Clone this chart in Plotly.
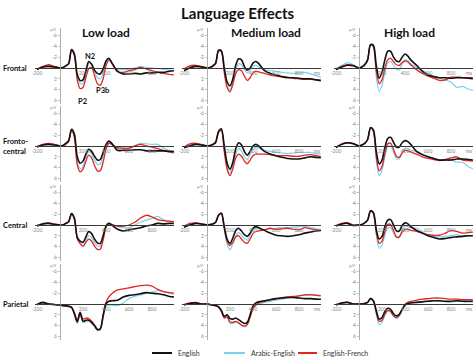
import plotly.graph_objects as go

W, H = 474, 358

# ---------------- data ----------------
time_ms = [-200, -150, -100, -50, 0, 25, 50, 75, 100, 125, 150, 175, 200, 225, 250, 275, 300, 325,
           350, 375, 400, 425, 450, 500, 550, 600, 650, 700, 750, 800, 850, 900, 950, 1000]

regions = ["Frontal", "Fronto-<br>central", "Central", "Parietal"]
loads = ["Low load", "Medium load", "High load"]
groups = ["English", "Arabic-English", "English-French"]
x_tick_vals = [-200, 200, 400, 600, 800]
x_tick_text = ["-200", "200", "400", "600", "800"]
y_tick_vals = [-6, -4, -2, 2, 4, 6]
y_tick_text = ["-6", "-4", "-2", "2", "4", "6"]

# Frontal
frontal_low_english = [0.3,-0.2,-0.3,-0.2,0.0,-0.1,-0.4,-0.8,-3.4,-2.6,1.2,2.3,2.2,0.5,-1.2,-0.7,0.4,1.0,1.1,0.2,-1.3,-1.8,-1.0,0.6,1.1,1.1,1.0,1.1,0.9,0.9,0.8,0.8,0.6,0.5]
frontal_low_arabic = [0.2,-0.2,-0.4,-0.2,0.0,-0.1,-0.4,-0.8,-3.3,-2.4,1.6,2.9,2.8,1.0,-0.8,-0.7,0.6,1.8,2.0,1.0,-1.0,-1.7,-0.9,0.3,0.3,0.2,0.0,-0.3,-0.1,0.0,0.1,0.2,0.4,0.5]
frontal_low_french = [0.2,-0.3,-0.6,-0.3,0.0,0.0,-0.4,-0.8,-3.2,-2.3,2.2,3.8,3.6,1.8,0.1,-0.1,1.4,2.9,3.2,2.0,-0.4,-1.5,-0.9,0.7,0.8,0.5,0.3,-0.1,0.2,0.5,0.8,1.0,1.2,1.3]

frontal_med_english = [0.5,0.0,-0.3,-0.2,0.0,-0.1,-0.4,-0.9,-3.3,-3.2,0.0,2.6,3.3,2.0,-0.5,-1.7,-1.5,-0.3,0.4,0.0,-0.9,-1.2,-0.8,0.5,1.0,1.3,1.6,1.8,1.8,1.9,2.0,2.0,2.2,2.4]
frontal_med_arabic = [0.2,-0.2,-0.3,-0.2,0.0,-0.1,-0.3,-0.8,-3.2,-3.1,0.5,3.2,4.0,2.6,0.3,-0.8,-0.6,0.3,0.9,0.4,-0.3,-0.5,-0.2,0.3,0.5,0.6,0.8,0.9,1.0,0.9,0.8,1.1,1.4,1.8]
frontal_med_french = [0.2,-0.4,-0.5,-0.3,0.0,0.0,-0.3,-0.8,-3.1,-3.0,0.8,3.6,4.4,3.0,1.0,0.3,0.5,1.5,2.3,1.8,0.9,0.6,0.7,1.0,1.3,1.5,1.6,1.7,1.9,2.0,2.1,2.1,2.2,2.2]

frontal_high_english = [0.3,-0.2,-0.5,-0.4,0.0,-0.2,-0.6,-1.5,-4.3,-4.2,-0.5,1.9,0.8,-1.5,-3.1,-3.1,-2.0,-1.3,-1.2,-2.0,-2.6,-2.2,-1.5,-0.5,0.6,1.3,1.6,1.8,1.8,1.9,1.8,1.8,1.9,2.0]
frontal_high_arabic = [0.2,-0.5,-1.0,-0.6,0.0,-0.3,-0.7,-1.6,-4.3,-3.8,1.5,4.3,3.2,0.8,-0.9,-1.2,-0.5,0.2,0.4,-0.7,-1.5,-1.4,-0.8,-0.2,0.5,1.0,1.5,1.9,2.2,2.6,3.6,3.4,3.9,4.2]
frontal_high_french = [0.2,-0.3,-0.6,-0.5,0.0,-0.2,-0.6,-1.5,-4.3,-4.0,0.5,2.9,2.2,0.0,-1.5,-1.8,-1.2,-0.6,-0.5,-1.0,-1.3,-1.1,-0.6,0.3,1.0,1.5,1.9,2.3,2.2,1.7,1.7,1.8,1.8,1.8]

# Fronto-central
frontocentral_low_english = [0.2,-0.2,-0.3,-0.2,0.0,-0.1,-0.5,-1.0,-3.1,-2.2,2.0,3.2,2.8,1.5,0.6,1.0,1.9,2.6,2.5,1.2,-0.3,-0.9,-0.5,0.8,0.8,0.8,0.7,0.7,0.9,0.9,0.9,0.9,1.0,1.0]
frontocentral_low_arabic = [0.1,-0.2,-0.5,-0.3,0.0,-0.1,-0.4,-0.9,-3.0,-1.9,2.9,4.2,3.8,2.0,1.0,1.4,2.6,3.4,3.3,1.8,0.0,-0.6,-0.4,0.5,0.5,0.5,-0.1,-0.5,-0.4,-0.3,-0.3,0.4,0.8,1.0]
frontocentral_low_french = [0.1,-0.3,-0.5,-0.3,0.0,0.0,-0.3,-0.8,-2.9,-1.6,3.5,4.8,4.3,2.8,1.7,2.2,3.6,4.6,4.6,3.0,0.6,-0.5,-0.3,0.3,0.4,0.4,0.0,-0.3,0.0,0.2,0.5,0.8,1.1,1.3]

frontocentral_med_english = [0.3,0.0,-0.3,-0.2,0.0,-0.1,-0.3,-0.7,-2.7,-3.2,0.0,3.2,4.3,3.0,0.5,-0.6,-0.2,1.0,1.7,1.0,0.0,-0.3,0.0,1.0,1.5,1.8,2.1,2.3,2.4,2.4,2.2,2.0,2.1,2.2]
frontocentral_med_arabic = [0.2,-0.2,-0.3,-0.2,0.0,-0.1,-0.2,-0.6,-2.6,-3.0,0.6,3.9,5.0,3.7,1.5,0.5,0.9,2.0,2.5,1.6,0.6,0.3,0.4,0.8,1.0,1.2,1.3,1.4,1.3,1.2,1.2,1.2,1.4,1.5]
frontocentral_med_french = [0.2,-0.4,-0.5,-0.3,0.0,0.0,-0.2,-0.6,-2.5,-2.9,1.0,4.3,5.5,4.2,2.2,1.5,1.9,2.8,3.3,2.6,1.8,1.5,1.5,1.5,1.6,1.8,1.8,1.8,1.9,1.9,1.7,1.6,1.8,2.0]

frontocentral_high_english = [0.3,-0.3,-0.6,-0.4,0.0,-0.2,-0.5,-1.2,-3.4,-3.0,1.0,3.3,2.6,0.3,-1.4,-1.6,-0.7,0.2,0.2,-0.6,-1.0,-0.8,-0.3,1.0,1.6,2.0,2.3,2.6,2.6,2.6,2.4,2.4,2.5,2.6]
frontocentral_high_arabic = [0.2,-0.4,-0.6,-0.4,0.0,-0.2,-0.5,-1.2,-3.4,-2.6,2.6,5.5,4.5,1.9,0.1,0.0,1.1,2.3,2.4,1.2,0.4,0.5,0.8,1.0,1.5,1.9,2.3,2.6,2.6,2.5,3.0,3.0,3.8,4.3]
frontocentral_high_french = [0.2,-0.4,-0.6,-0.5,0.0,-0.2,-0.5,-1.2,-3.4,-2.8,1.9,4.6,3.8,1.4,-0.4,-0.5,0.6,1.9,2.1,1.3,0.8,0.9,1.1,1.5,2.0,2.3,2.5,2.7,2.5,2.2,2.0,2.6,2.7,2.8]

# Central
central_low_english = [0.2,-0.2,-0.3,-0.1,0.0,0.0,-0.3,-0.6,-2.1,-1.3,2.3,3.0,3.2,2.2,1.2,1.6,2.6,3.3,3.4,2.0,0.2,-0.3,0.0,0.8,1.1,0.9,0.7,0.5,0.2,0.0,-0.3,-0.2,-0.3,-0.3]
central_low_arabic = [0.1,-0.3,-0.4,-0.2,0.0,0.0,-0.3,-0.6,-2.1,-1.2,2.6,3.5,3.8,2.8,2.0,2.3,3.2,3.9,3.9,2.4,0.3,-0.3,0.0,0.3,0.5,0.5,0.0,-0.5,-0.9,-1.2,-1.6,-1.0,-0.7,-0.6]
central_low_french = [0.1,-0.2,-0.4,-0.2,0.0,0.0,-0.3,-0.6,-2.1,-1.0,2.5,3.4,4.0,3.2,2.6,3.0,3.9,4.5,4.5,2.8,0.4,-0.3,-0.1,0.2,0.2,0.0,-0.5,-1.3,-1.8,-1.5,-1.0,-0.8,-0.7,-0.6]

central_med_english = [0.4,0.0,-0.3,-0.2,0.0,-0.1,-0.2,-0.5,-1.8,-2.2,0.3,2.6,3.4,2.4,1.0,0.6,1.1,1.8,2.1,1.5,0.6,0.3,0.5,1.0,1.5,1.9,2.0,2.1,2.0,1.8,1.5,1.3,1.1,1.0]
central_med_arabic = [0.2,-0.2,-0.3,-0.2,0.0,-0.1,-0.2,-0.5,-1.8,-2.1,0.9,3.6,4.6,3.5,2.0,1.4,1.9,2.5,2.8,1.9,0.9,0.6,0.7,0.9,0.7,0.6,0.5,0.5,0.4,0.3,0.2,0.5,0.7,0.9]
central_med_french = [0.2,-0.3,-0.4,-0.2,0.0,0.0,-0.2,-0.5,-1.8,-2.1,0.6,3.0,3.8,3.2,2.2,2.0,2.6,3.2,3.4,2.6,1.6,1.2,1.1,0.9,0.6,0.8,0.7,0.6,0.8,0.9,0.5,0.7,0.9,1.0]

central_high_english = [0.2,-0.2,-0.3,0.1,0.0,-0.1,-0.4,-0.9,-2.6,-2.3,0.8,2.6,2.1,0.3,-0.9,-1.0,0.0,1.1,1.1,0.1,-0.4,-0.2,0.3,1.0,1.5,2.0,2.3,2.6,2.5,2.3,2.2,2.1,2.0,2.0]
central_high_arabic = [0.1,-0.2,-0.3,0.1,0.0,-0.1,-0.4,-0.9,-2.6,-2.0,1.8,4.3,3.7,1.9,0.6,0.5,1.5,2.3,2.3,0.9,0.2,0.3,0.5,0.6,1.2,1.9,2.1,2.2,2.1,2.0,1.8,2.1,2.0,2.0]
central_high_french = [0.1,-0.3,-0.4,0.0,0.0,-0.1,-0.4,-0.9,-2.7,-2.2,1.3,3.4,3.0,1.2,-0.1,-0.1,1.0,2.2,2.2,1.3,0.8,0.8,1.0,1.2,1.5,1.8,1.9,1.9,1.5,1.0,1.2,1.5,1.4,1.3]

# Parietal
parietal_low_english = [0.1,-0.3,0.0,0.1,0.2,0.3,0.3,0.4,0.6,1.8,3.3,1.6,3.2,3.0,3.0,3.4,4.0,4.7,4.6,2.2,0.0,-0.5,-0.6,-0.7,-1.3,-1.6,-1.7,-1.9,-2.1,-2.0,-1.9,-1.7,-1.4,-1.3]
parietal_low_arabic = [0.1,-0.2,-0.1,0.1,0.2,0.3,0.4,0.5,0.7,2.0,3.6,1.8,3.4,3.3,3.2,3.6,4.2,4.9,4.8,2.6,0.5,0.2,0.2,0.3,-0.2,-1.0,-1.4,-1.7,-2.0,-2.2,-2.5,-2.3,-2.0,-1.8]
parietal_low_french = [0.1,-0.2,0.0,0.1,0.2,0.3,0.4,0.5,0.6,1.6,3.0,1.5,2.8,2.6,2.7,3.2,3.9,4.7,4.6,2.0,-0.3,-1.3,-1.9,-2.6,-2.8,-3.0,-3.2,-3.4,-3.5,-3.3,-2.7,-2.3,-2.1,-2.0]

parietal_med_english = [0.2,-0.1,-0.2,0.0,0.0,0.1,0.2,0.3,0.5,1.2,2.3,2.0,2.7,2.8,2.6,2.9,3.3,3.6,3.4,2.0,0.4,-0.2,-0.4,-0.6,-0.8,-1.0,-1.1,-1.2,-1.2,-1.1,-1.0,-1.0,-0.9,-0.9]
parietal_med_arabic = [0.1,-0.1,-0.2,0.0,0.0,0.1,0.2,0.3,0.5,1.3,2.6,2.5,3.6,3.6,3.3,3.6,4.0,4.2,3.9,2.5,0.9,0.3,0.0,-0.3,-0.5,-0.7,-0.9,-1.1,-1.3,-1.5,-1.7,-1.8,-1.7,-1.6]
parietal_med_french = [0.1,-0.2,-0.3,0.0,0.0,0.1,0.2,0.3,0.6,1.4,2.6,2.4,3.3,3.4,3.2,3.5,3.9,4.1,3.8,2.4,0.8,0.2,-0.2,-0.5,-0.8,-1.0,-1.2,-1.3,-1.4,-1.5,-1.7,-1.7,-1.6,-1.5]

parietal_high_english = [0.2,-0.2,-0.3,0.0,0.0,0.0,-0.1,-0.3,-1.0,-0.6,1.2,2.8,2.5,1.4,0.8,1.0,1.8,2.2,1.9,1.0,0.2,-0.1,-0.2,-0.3,-0.4,-0.5,-0.6,-0.6,-0.5,-0.5,-0.6,-0.5,-0.5,-0.5]
parietal_high_arabic = [0.1,-0.2,-0.3,0.0,0.0,0.0,-0.1,-0.3,-1.0,-0.4,1.9,3.8,3.4,2.1,1.3,1.5,2.3,2.7,2.3,1.2,0.3,0.0,-0.2,-0.3,-0.5,-0.6,-0.6,-0.5,-0.4,-0.4,-0.5,-0.5,-0.4,-0.4]
parietal_high_french = [0.1,-0.2,-0.3,0.0,0.0,0.0,-0.1,-0.3,-1.1,-0.6,1.5,3.2,3.0,1.9,1.2,1.4,2.2,2.5,2.1,1.0,0.1,-0.3,-0.5,-0.7,-0.9,-1.0,-1.1,-1.1,-1.0,-0.9,-0.9,-0.8,-0.8,-0.8]

panels = [
    [(frontal_low_english, frontal_low_arabic, frontal_low_french),
     (frontal_med_english, frontal_med_arabic, frontal_med_french),
     (frontal_high_english, frontal_high_arabic, frontal_high_french)],
    [(frontocentral_low_english, frontocentral_low_arabic, frontocentral_low_french),
     (frontocentral_med_english, frontocentral_med_arabic, frontocentral_med_french),
     (frontocentral_high_english, frontocentral_high_arabic, frontocentral_high_french)],
    [(central_low_english, central_low_arabic, central_low_french),
     (central_med_english, central_med_arabic, central_med_french),
     (central_high_english, central_high_arabic, central_high_french)],
    [(parietal_low_english, parietal_low_arabic, parietal_low_french),
     (parietal_med_english, parietal_med_arabic, parietal_med_french),
     (parietal_high_english, parietal_high_arabic, parietal_high_french)],
]

# ---------------- styling / layout ----------------
colors = {"English": "#111111", "Arabic-English": "#7fd0ec", "English-French": "#e3241f"}
widths = {"English": 1.6, "Arabic-English": 1.2, "English-French": 1.3}
FONT = "Lato, 'DejaVu Sans', sans-serif"

X0 = [60, 207, 359]        # pixel x of time 0 per column
Y0 = [68, 146, 225, 304]   # pixel y of 0 uV per row
XR = [-215, 990]
XS = 0.115                 # px per ms
YR = [6.6, -7.4]           # reversed: negative up
YS = 5.4                   # px per uV

fig = go.Figure()
layout = dict(width=W, height=H, margin=dict(l=0, r=0, t=0, b=0),
              paper_bgcolor="white", plot_bgcolor="rgba(0,0,0,0)",
              showlegend=False, font=dict(family=FONT))
annotations = []
shapes = []

for r in range(4):
    for c in range(3):
        k = r * 3 + c + 1
        sx = "" if k == 1 else str(k)
        x_left = X0[c] + XR[0] * XS
        x_right = X0[c] + XR[1] * XS
        y_top = Y0[r] + YR[1] * YS
        y_bot = Y0[r] + YR[0] * YS
        eng, ara, fre = panels[r][c]
        for name, vals in (("Arabic-English", ara), ("English-French", fre), ("English", eng)):
            fig.add_trace(go.Scatter(
                x=time_ms, y=vals, mode="lines", name=name,
                line=dict(color=colors[name], width=widths[name], shape="spline", smoothing=0.8),
                xaxis="x" + sx, yaxis="y" + sx, hoverinfo="skip"))
        tv = list(x_tick_vals)
        tt = list(x_tick_text)
        if c > 0:
            tv.append(955)
            tt.append("ms")
        layout["xaxis" + sx] = dict(
            domain=[x_left / W, x_right / W], range=XR, anchor="free",
            position=1 - Y0[r] / H, showline=True, linecolor="#3a3a3a", linewidth=1.3,
            showgrid=False, zeroline=False, ticks="", tickvals=tv, ticktext=tt,
            tickfont=dict(size=5, color="#888888"), automargin=False, fixedrange=True)
        layout["yaxis" + sx] = dict(
            domain=[1 - y_bot / H, 1 - y_top / H], range=YR, anchor="free",
            position=X0[c] / W, showline=True, linecolor="#9a9a9a", linewidth=0.8,
            showgrid=False, zeroline=False, ticks="outside", ticklen=2, tickcolor="#9a9a9a",
            tickwidth=0.6, tickvals=y_tick_vals, ticktext=y_tick_text,
            tickfont=dict(size=5, color="#888888"), automargin=False, fixedrange=True)
        annotations.append(dict(text="µV", x=(X0[c] - 1) / W, y=1 - (Y0[r] - 7.1 * YS) / H,
                                xref="paper", yref="paper", xanchor="right", yanchor="middle",
                                showarrow=False, font=dict(size=4.5, color="#888888")))

# titles
annotations.append(dict(text="<b>Language Effects</b>", x=237 / W, y=1 - 13 / H, xref="paper",
                        yref="paper", xanchor="center", yanchor="middle", showarrow=False,
                        font=dict(size=15, color="#111111", family=FONT)))
for c, (lab, cx) in enumerate(zip(loads, [106, 266, 409])):
    annotations.append(dict(text="<b>" + lab + "</b>", x=cx / W, y=1 - 32 / H, xref="paper",
                            yref="paper", xanchor="center", yanchor="middle", showarrow=False,
                            font=dict(size=12, color="#111111", family=FONT)))
for r, lab in enumerate(regions):
    annotations.append(dict(text="<b>" + lab + "</b>", x=1 / W, y=1 - Y0[r] / H, xref="paper",
                            yref="paper", xanchor="left", yanchor="middle", align="left",
                            showarrow=False, font=dict(size=7.5, color="#111111", family=FONT)))

# component labels
for txt, px, py in (("N2", 90, 57), ("P2", 82, 102), ("P3b", 102, 90)):
    annotations.append(dict(text="<b>" + txt + "</b>", x=px / W, y=1 - py / H, xref="paper",
                            yref="paper", xanchor="center", yanchor="middle", showarrow=False,
                            font=dict(size=7.5, color="#111111", family=FONT)))

# legend
for name, lx0, lx1 in (("English", 152, 172), ("Arabic-English", 224, 245), ("English-French", 298, 317)):
    shapes.append(dict(type="line", xref="paper", yref="paper", x0=lx0 / W, x1=lx1 / W,
                       y0=1 - 353 / H, y1=1 - 353 / H,
                       line=dict(color=colors[name], width=2)))
    annotations.append(dict(text=name, x=(lx1 + 4) / W, y=1 - 353 / H, xref="paper", yref="paper",
                            xanchor="left", yanchor="middle", showarrow=False,
                            font=dict(size=7, color="#333333", family=FONT)))

layout["annotations"] = annotations
layout["shapes"] = shapes
fig.update_layout(**layout)
fig.write_html("out.html", config={"displayModeBar": False, "staticPlot": True},
               post_script="document.body.style.margin='0';document.body.style.padding='0';")
